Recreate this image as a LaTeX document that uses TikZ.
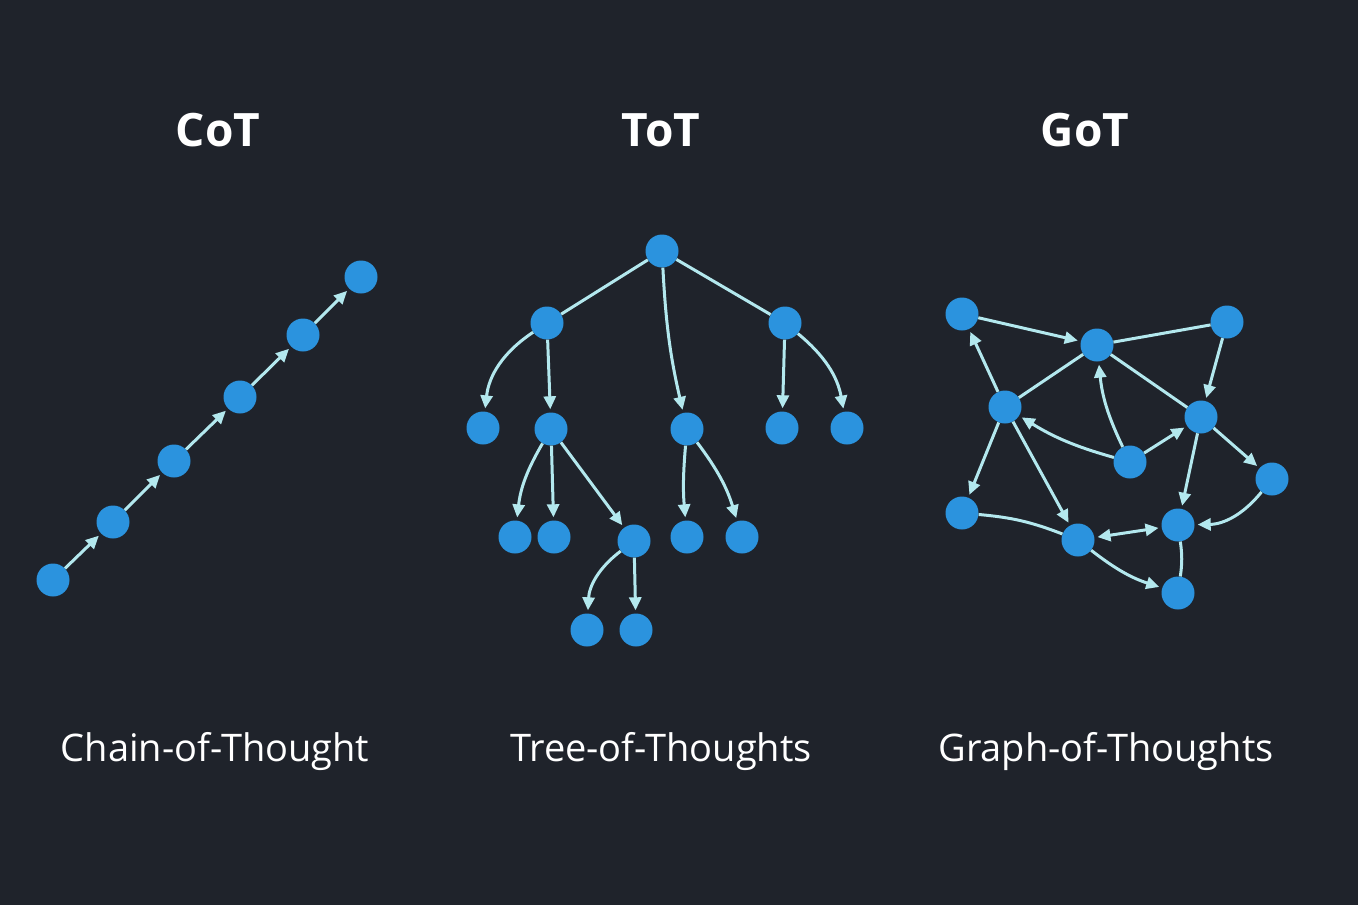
\documentclass[tikz,border=0pt]{standalone}
\usepackage{fontspec}
\setmainfont{Open Sans}
\usetikzlibrary{arrows.meta}
\definecolor{bg}{HTML}{1F232B}
\definecolor{dot}{HTML}{2B93DE}
\definecolor{edge}{HTML}{B3E8EE}
\tikzset{
  pt/.style={circle,fill=dot,minimum size=33pt,inner sep=0pt},
  ln/.style={draw=edge,line width=3pt},
  ar/.style={ln,-{Triangle[length=13pt,width=12pt]},shorten >=3pt},
  title/.style={text=white,font=\fontsize{46}{50}\selectfont\bfseries},
  caption/.style={text=white,font=\fontsize{38}{42}\selectfont}
}
\begin{document}
\begin{tikzpicture}[x=1pt,y=-1pt]
\fill[bg] (0,0) rectangle (1358,905);
\useasboundingbox (0,0) rectangle (1358,905);

% titles and captions
\node[title] (tc) at (218,130) {CoT};
\node[title] (tt) at (661,130) {ToT};
\node[title] (tg) at (1085,130) {GoT};
\node[caption] (cc) at (215,752) {Chain-of-Thought};
\node[caption] (ct) at (661,752) {Tree-of-Thoughts};
\node[caption] (cg) at (1106,752) {Graph-of-Thoughts};

% chain
\foreach \i/\x/\y in {1/53/580,2/113/522,3/174/461,4/240/397,5/303/335,6/361/277}
  \node[pt] (c\i) at (\x,\y) {};
\foreach \i/\j in {1/2,2/3,3/4,4/5,5/6}
  \draw[ar] (c\i) -- (c\j);

% tree
\node[pt] (r) at (662,251) {};
\node[pt] (a) at (547,323) {};
\node[pt] (b) at (785,323) {};
\node[pt] (a1) at (483,428) {};
\node[pt] (a2) at (551,429) {};
\node[pt] (m) at (687,429) {};
\node[pt] (b1) at (782,428) {};
\node[pt] (b2) at (847,428) {};
\node[pt] (a21) at (515,537) {};
\node[pt] (a22) at (554,537) {};
\node[pt] (a23) at (634,541) {};
\node[pt] (m1) at (687,537) {};
\node[pt] (m2) at (742,537) {};
\node[pt] (d1) at (587,630) {};
\node[pt] (d2) at (636,630) {};
\draw[ln] (r) -- (a);
\draw[ln] (r) -- (b);
\draw[ar] (r) to[bend right=5] (m);
\draw[ar] (a) to[bend right=25] (a1);
\draw[ar] (a) -- (a2);
\draw[ar] (a2) to[bend right=12] (a21);
\draw[ar] (a2) -- (a22);
\draw[ar] (a2) -- (a23);
\draw[ar] (m) to[bend right=5] (m1);
\draw[ar] (m) to[bend left=10] (m2);
\draw[ar] (b) -- (b1);
\draw[ar] (b) to[bend left=20] (b2);
\draw[ar] (a23) to[bend right=25] (d1);
\draw[ar] (a23) -- (d2);

% graph
\foreach \i/\x/\y in {1/962/314,2/1097/345,3/1227/322,4/1005/407,5/1201/417,6/1130/462,
  7/1272/479,8/962/513,9/1078/540,10/1178/525,11/1178/593}
  \node[pt] (g\i) at (\x,\y) {};
\draw[ar] (g1) -- (g2);
\draw[ln] (g2) -- (g3);
\draw[ar] (g3) -- (g5);
\draw[ar] (g4) -- (g1);
\draw[ln] (g4) -- (g2);
\draw[ln] (g2) -- (g5);
\draw[ar] (g6) to[bend left=10] (g2);
\draw[ar] (g6) to[bend left=8] (g4);
\draw[ar] (g6) -- (g5);
\draw[ar] (g5) -- (g7);
\draw[ar] (g5) -- (g10);
\draw[ar] (g7) to[bend left=25] (g10);
\draw[ar] (g4) -- (g8);
\draw[ar] (g4) -- (g9);
\draw[ln] (g8) to[bend left=8] (g9);
\draw[ar,{Triangle[length=13pt,width=12pt]}-{Triangle[length=13pt,width=12pt]},shorten <=3pt] (g9) -- (g10);
\draw[ar] (g9) to[bend right=10] (g11);
\draw[ln] (g10) to[bend left=8] (g11);
\end{tikzpicture}
\end{document}
